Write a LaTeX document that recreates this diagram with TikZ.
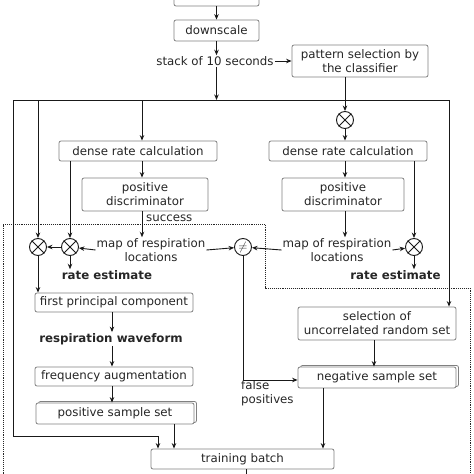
\documentclass[tikz,border=0pt]{standalone}
\usepackage{fontspec}
\setmainfont{DejaVu Sans}
\usetikzlibrary{arrows.meta,shadows,calc}
\begin{document}
\begin{tikzpicture}[x=1pt,y=-1pt,
  every node/.style={font=\fontsize{11.8}{14}\selectfont, text=black!85},
  box/.style={draw=black!50, rounded corners=2pt, line width=0.8pt, fill=white, inner sep=0pt, align=center},
  lbl/.style={inner sep=1pt, align=center},
  blbl/.style={inner sep=1pt, font=\fontsize{11.8}{14}\selectfont\bfseries},
  stackbox/.style={box, copy shadow={shadow xshift=2.5pt, shadow yshift=1.5pt, draw=black!50, fill=white}},
  op/.style={circle, draw=black!90, line width=0.9pt, minimum size=17pt, inner sep=0pt, fill=white},
  conn/.style={draw=black!90, line width=0.9pt},
  arr/.style={conn, -{Stealth[length=5.5pt,width=4.5pt]}},
  dotl/.style={draw=black!85, line width=0.9pt, densely dotted}
]
\useasboundingbox (0,0) rectangle (474,474);

% dotted region
\coordinate (d1) at (3,480);
\coordinate (d2) at (3,224);
\coordinate (d3) at (265,224);
\coordinate (d4) at (265,288);
\coordinate (d5) at (470,288);
\coordinate (d6) at (470,480);
\draw[dotl] (d1) -- (d2) -- (d3) -- (d4) -- (d5) -- (d6);

% boxes
\node[box, minimum width=85pt, minimum height=22pt] (top) at (216.5,-5) {};
\node[box, minimum width=85pt, minimum height=21pt] (down) at (216.5,30.5) {downscale};
\node[lbl] (stack) at (215,61) {stack of 10 seconds};
\node[box, minimum width=136pt, minimum height=32pt] (pattern) at (360,61) {pattern selection by\\the classifier};
\node[box, minimum width=158pt, minimum height=20pt] (densL) at (138,151) {dense rate calculation};
\node[box, minimum width=158pt, minimum height=20pt] (densR) at (348,151) {dense rate calculation};
\node[box, minimum width=126pt, minimum height=33pt] (posL) at (145,194.5) {positive\\discriminator};
\node[box, minimum width=122pt, minimum height=33pt] (posR) at (343,194.5) {positive\\discriminator};

\node[op] (xR1) at (345,120) {};
\node[op] (xL1) at (38,247) {};
\node[op] (xL2) at (70,247) {};
\node[op] (neq) at (243,247) {$\neq$};
\node[op] (xR2) at (414,247) {};
\foreach \c in {xR1,xL1,xL2,xR2}{
  \draw[line width=0.9pt, black!90] (\c.north west) -- (\c.south east) (\c.north east) -- (\c.south west);
}

\node[lbl] (mapL) at (151,250) {map of respiration\\locations};
\node[lbl] (mapR) at (337,250) {map of respiration\\locations};
\node[lbl, anchor=west] (succ) at (145,218) {success};
\node[blbl] (rateL) at (107,275) {rate estimate};
\node[blbl] (rateR) at (395.5,275) {rate estimate};

\node[box, minimum width=158pt, minimum height=19pt] (fpc) at (114,302.5) {first principal component};
\node[blbl] (wave) at (111,339) {respiration waveform};
\node[box, minimum width=158pt, minimum height=19pt] (freq) at (114,376.5) {frequency augmentation};
\node[stackbox, minimum width=158pt, minimum height=21pt] (possamp) at (115,413.5) {positive sample set};
\node[box, minimum width=158pt, minimum height=33pt] (sel) at (377,323.5) {selection of\\uncorrelated random set};
\node[stackbox, minimum width=158pt, minimum height=21pt] (negsamp) at (377,377.5) {negative sample set};
\node[lbl, anchor=north west, align=left] (fp) at (240,379) {false\\positives};
\node[box, minimum width=183pt, minimum height=20pt] (train) at (242.5,459) {training batch};

% coordinates
\coordinate (hl) at (13,100);
\coordinate (hr) at (449,100);
\coordinate (bl) at (13,436);
\coordinate (vL) at (142,0);
\coordinate (vR) at (345,0);
\coordinate (vW) at (112,0);
\coordinate (vP) at (174,0);
\coordinate (vB) at (158,0);
\coordinate (vS) at (374,0);
\coordinate (vN) at (323,0);
\coordinate (vT) at (246,0);
\coordinate (tL) at (38,100);
\coordinate (tS) at (216.5,100);
\coordinate (bend) at (158,436);
\coordinate (tend) at (246,480);

% connectors
\draw[arr] (top.south) -- (down.north);
\draw[arr] (down.south) -- (down.south |- stack.north);
\draw[arr] (stack.east) -- (pattern.west);
\draw[arr] (stack.south -| tS) -- (tS);
\draw[conn] (bl) -- (hl) -- (hr);
\draw[arr] (hr) -- (hr |- sel.north);
\draw[arr] (bl) -- (bend) -- (train.north -| vB);
\draw[arr] (tL) -- (xL1);
\draw[arr] (hl -| vL) -- (densL.north -| vL);
\draw[arr] (pattern.south -| vR) -- (xR1);
\draw[arr] (xR1) -- (densR.north -| vR);
\draw[arr] (densL.south -| vL) -- (posL.north -| vL);
\draw[arr] (posL.south -| vL) -- (mapL.north -| vL);
\draw[arr] (densL.south -| xL2) -- (xL2);
\draw[arr] (mapL.west) -- (xL2);
\draw[arr] (xL2) -- (xL1);
\draw[arr] (xL2) -- (xL2 |- rateL.north);
\draw[arr] (mapL.east) -- (neq);
\draw[arr] (densR.south -| vR) -- (posR.north -| vR);
\draw[arr] (posR.south -| vR) -- (mapR.north -| vR);
\draw[arr] (mapR.west) -- (neq);
\draw[arr] (mapR.east) -- (xR2);
\draw[arr] (densR.south -| xR2) -- (xR2);
\draw[arr] (xR2) -- (xR2 |- rateR.north);
\draw[arr] (xL1) -- (xL1 |- fpc.north);
\draw[arr] (fpc.south -| vW) -- (wave.north -| vW);
\draw[arr] (wave.south -| vW) -- (freq.north -| vW);
\draw[arr] (freq.south -| vW) -- (possamp.north -| vW);
\draw[arr] (possamp.south -| vP) -- (train.north -| vP);
\draw[arr] (neq) -- ([yshift=-2.5pt]neq |- negsamp.west) -- ([yshift=-2.5pt]negsamp.west);
\draw[arr] (sel.south -| vS) -- (negsamp.north -| vS);
\draw[arr] (negsamp.south -| vN) -- (train.north -| vN);
\draw[conn] (train.south -| vT) -- (tend);
\end{tikzpicture}
\end{document}
